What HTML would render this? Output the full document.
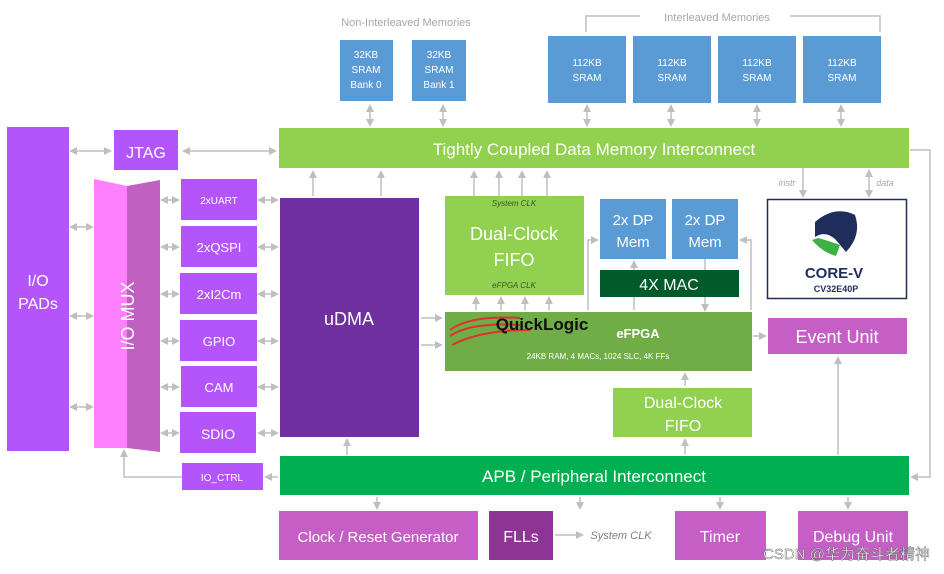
<!DOCTYPE html><html><head><meta charset="utf-8"><style>body{margin:0;background:#fff}svg{display:block;font-family:"Liberation Sans","Noto Sans CJK SC",sans-serif}</style></head><body>
<svg width="944" height="574" viewBox="0 0 944 574" xmlns="http://www.w3.org/2000/svg">
<defs><marker id="a" markerWidth="8" markerHeight="8" refX="6" refY="4" orient="auto-start-reverse" markerUnits="userSpaceOnUse"><path d="M0,0 L8,4 L0,8 z" fill="#bfbfbf"/></marker></defs>
<g stroke="#bfbfbf" stroke-width="1.5" fill="none">
<g marker-start="url(#a)" marker-end="url(#a)">
<path d="M71,151 H110"/><path d="M184,151 H275"/>
<path d="M71,227 H92"/><path d="M71,316 H92"/><path d="M71,407 H92"/>
<path d="M162,200 H178"/><path d="M162,247 H178"/><path d="M162,294 H178"/><path d="M162,341 H178"/><path d="M162,387 H178"/><path d="M162,433 H178"/>
<path d="M259,200 H277"/><path d="M259,247 H277"/><path d="M259,294 H277"/><path d="M259,341 H277"/><path d="M259,387 H277"/><path d="M259,433 H277"/>
<path d="M370,125 V106"/><path d="M443,125 V106"/>
<path d="M587,125 V106"/><path d="M671,125 V106"/><path d="M757,125 V106"/><path d="M841,125 V106"/>
<path d="M869,171 V196"/>
</g>
<g marker-end="url(#a)">
<path d="M278,477 H266"/>
<path d="M182,477 H124 V451"/>
<path d="M313,196 V172"/><path d="M381,196 V172"/>
<path d="M474,196 V172"/><path d="M499,196 V172"/><path d="M522,196 V172"/><path d="M547,196 V172"/>
<path d="M476,310 V298"/><path d="M501,310 V298"/><path d="M525,310 V298"/><path d="M549,310 V298"/>
<path d="M803,168 V196"/>
<path d="M910,150 H930 V477 H912"/>
<path d="M588,310 V240 H597"/>
<path d="M751,310 V240 H741"/>
<path d="M634,310 V262"/>
<path d="M705,259 V310"/>
<path d="M421,318 H441"/><path d="M421,345 H441"/>
<path d="M753,336 H765"/>
<path d="M838,455 V358"/>
<path d="M685,386 V374"/>
<path d="M685,454 V440"/>
<path d="M347,455 V440"/>
<path d="M377,497 V508"/><path d="M580,497 V508"/><path d="M720,497 V508"/><path d="M848,497 V508"/>
<path d="M555,535 H582"/>
</g>
<path d="M586,32 V16 H640 M790,16 H880 V32"/>
</g>
<g fill="#fff" text-anchor="middle">
<rect x="7" y="127" width="62" height="324" fill="#b455fc"/>
<text x="38" y="286" font-size="16">I/O</text><text x="38" y="309" font-size="16">PADs</text>
<rect x="114" y="130" width="64" height="40" fill="#b455fc"/><text x="146" y="158" font-size="16">JTAG</text>
<path d="M94,179 L127,186 V448 L94,448 z" fill="#ff80ff"/>
<path d="M127,186 L160,180 V452 L127,448 z" fill="#c060c0"/>
<text transform="translate(134,316) rotate(-90)" font-size="18">I/O MUX</text>
<rect x="181" y="179" width="76" height="41" fill="#b455fc"/><text x="219" y="204" font-size="10">2xUART</text>
<rect x="181" y="226" width="76" height="41" fill="#b455fc"/><text x="219" y="252" font-size="13">2xQSPI</text>
<rect x="180" y="273" width="77" height="41" fill="#b455fc"/><text x="219" y="299" font-size="13">2xI2Cm</text>
<rect x="180" y="320" width="77" height="41" fill="#b455fc"/><text x="219" y="346" font-size="13">GPIO</text>
<rect x="181" y="366" width="76" height="41" fill="#b455fc"/><text x="219" y="392" font-size="13">CAM</text>
<rect x="180" y="412" width="76" height="41" fill="#b455fc"/><text x="218" y="439" font-size="14">SDIO</text>
<rect x="182" y="463" width="81" height="27" fill="#b455fc"/><text x="222" y="481" font-size="10">IO_CTRL</text>
<rect x="280" y="198" width="139" height="239" fill="#7030a0"/><text x="349" y="325" font-size="18">uDMA</text>
<rect x="279" y="128" width="630" height="40" fill="#92d050"/><text x="594" y="155" font-size="17">Tightly Coupled Data Memory Interconnect</text>
<text x="406" y="26" font-size="11" fill="#a6a6a6">Non-Interleaved  Memories</text>
<text x="717" y="21" font-size="11" fill="#a6a6a6">Interleaved Memories</text>
<g font-size="10">
<rect x="340" y="40" width="53" height="61" fill="#5b9bd5"/><text x="366" y="58">32KB</text><text x="366" y="73">SRAM</text><text x="366" y="88">Bank 0</text>
<rect x="412" y="40" width="54" height="61" fill="#5b9bd5"/><text x="439" y="58">32KB</text><text x="439" y="73">SRAM</text><text x="439" y="88">Bank 1</text>
<rect x="548" y="36" width="78" height="67" fill="#5b9bd5"/><text x="587" y="66">112KB</text><text x="587" y="81">SRAM</text>
<rect x="633" y="36" width="78" height="67" fill="#5b9bd5"/><text x="672" y="66">112KB</text><text x="672" y="81">SRAM</text>
<rect x="718" y="36" width="78" height="67" fill="#5b9bd5"/><text x="757" y="66">112KB</text><text x="757" y="81">SRAM</text>
<rect x="803" y="36" width="78" height="67" fill="#5b9bd5"/><text x="842" y="66">112KB</text><text x="842" y="81">SRAM</text>
</g>
<rect x="445" y="196" width="139" height="99" fill="#92d050"/>
<text x="514" y="206" font-size="8" fill="#385723" font-style="italic">System CLK</text>
<text x="514" y="240" font-size="18">Dual-Clock</text><text x="514" y="266" font-size="18">FIFO</text>
<text x="514" y="288" font-size="8" fill="#385723" font-style="italic">eFPGA CLK</text>
<rect x="600" y="199" width="66" height="60" fill="#5b9bd5"/><text x="633" y="225" font-size="15">2x DP</text><text x="633" y="247" font-size="15">Mem</text>
<rect x="672" y="199" width="66" height="60" fill="#5b9bd5"/><text x="705" y="225" font-size="15">2x DP</text><text x="705" y="247" font-size="15">Mem</text>
<rect x="600" y="270" width="139" height="27" fill="#005a2a"/><text x="669" y="290" font-size="16">4X MAC</text>
<rect x="445" y="312" width="307" height="59" fill="#70ad47"/>
<path d="M450,330 Q470,315 520,318 M450,336 Q470,322 520,325 M452,345 Q480,330 530,330" stroke="#e03030" stroke-width="2" fill="none"/>
<text x="542" y="330" font-size="17" fill="#111" font-weight="bold">QuickLogic</text>
<text x="638" y="338" font-size="13" font-weight="bold">eFPGA</text>
<text x="598" y="359" font-size="8">24KB RAM, 4 MACs, 1024 SLC, 4K FFs</text>
<rect x="767.5" y="199.5" width="139" height="99" fill="#fff" stroke="#1f2d5c" stroke-width="1.5"/>
<path d="M815,222 Q835,205 855,215 Q862,235 846,252 L836,240 Q826,230 815,237 z" fill="#1f2d5c"/>
<path d="M812,240 Q822,252 836,256 L840,245 Q826,240 818,238 z" fill="#3cb043"/>
<text x="834" y="278" font-size="15" font-weight="bold" fill="#1f2d5c">CORE-V</text>
<text x="836" y="292" font-size="9" font-weight="bold" fill="#1f2d5c">CV32E40P</text>
<text x="787" y="186" font-size="9" fill="#a6a6a6" font-style="italic">instr</text>
<text x="885" y="186" font-size="9" fill="#a6a6a6" font-style="italic">data</text>
<rect x="768" y="318" width="139" height="36" fill="#c55ec5"/><text x="837" y="343" font-size="18">Event Unit</text>
<rect x="613" y="388" width="139" height="49" fill="#92d050"/><text x="683" y="408" font-size="16">Dual-Clock</text><text x="683" y="431" font-size="16">FIFO</text>
<rect x="280" y="456" width="629" height="39" fill="#00b050"/><text x="594" y="482" font-size="17">APB / Peripheral Interconnect</text>
<rect x="279" y="511" width="199" height="49" fill="#c55ec5"/><text x="378" y="542" font-size="15">Clock / Reset Generator</text>
<rect x="489" y="511" width="64" height="49" fill="#8e3494"/><text x="521" y="542" font-size="16">FLLs</text>
<text x="621" y="539" font-size="11" fill="#7f7f7f" font-style="italic">System CLK</text>
<rect x="675" y="511" width="91" height="49" fill="#c55ec5"/><text x="720" y="542" font-size="16">Timer</text>
<rect x="798" y="511" width="110" height="49" fill="#c55ec5"/><text x="853" y="542" font-size="16">Debug Unit</text>
<text x="930" y="559" text-anchor="end" font-size="15" fill="#fff" stroke="#555" stroke-width="0.4">CSDN @华为奋斗者精神</text>
</g>
</svg></body></html>
